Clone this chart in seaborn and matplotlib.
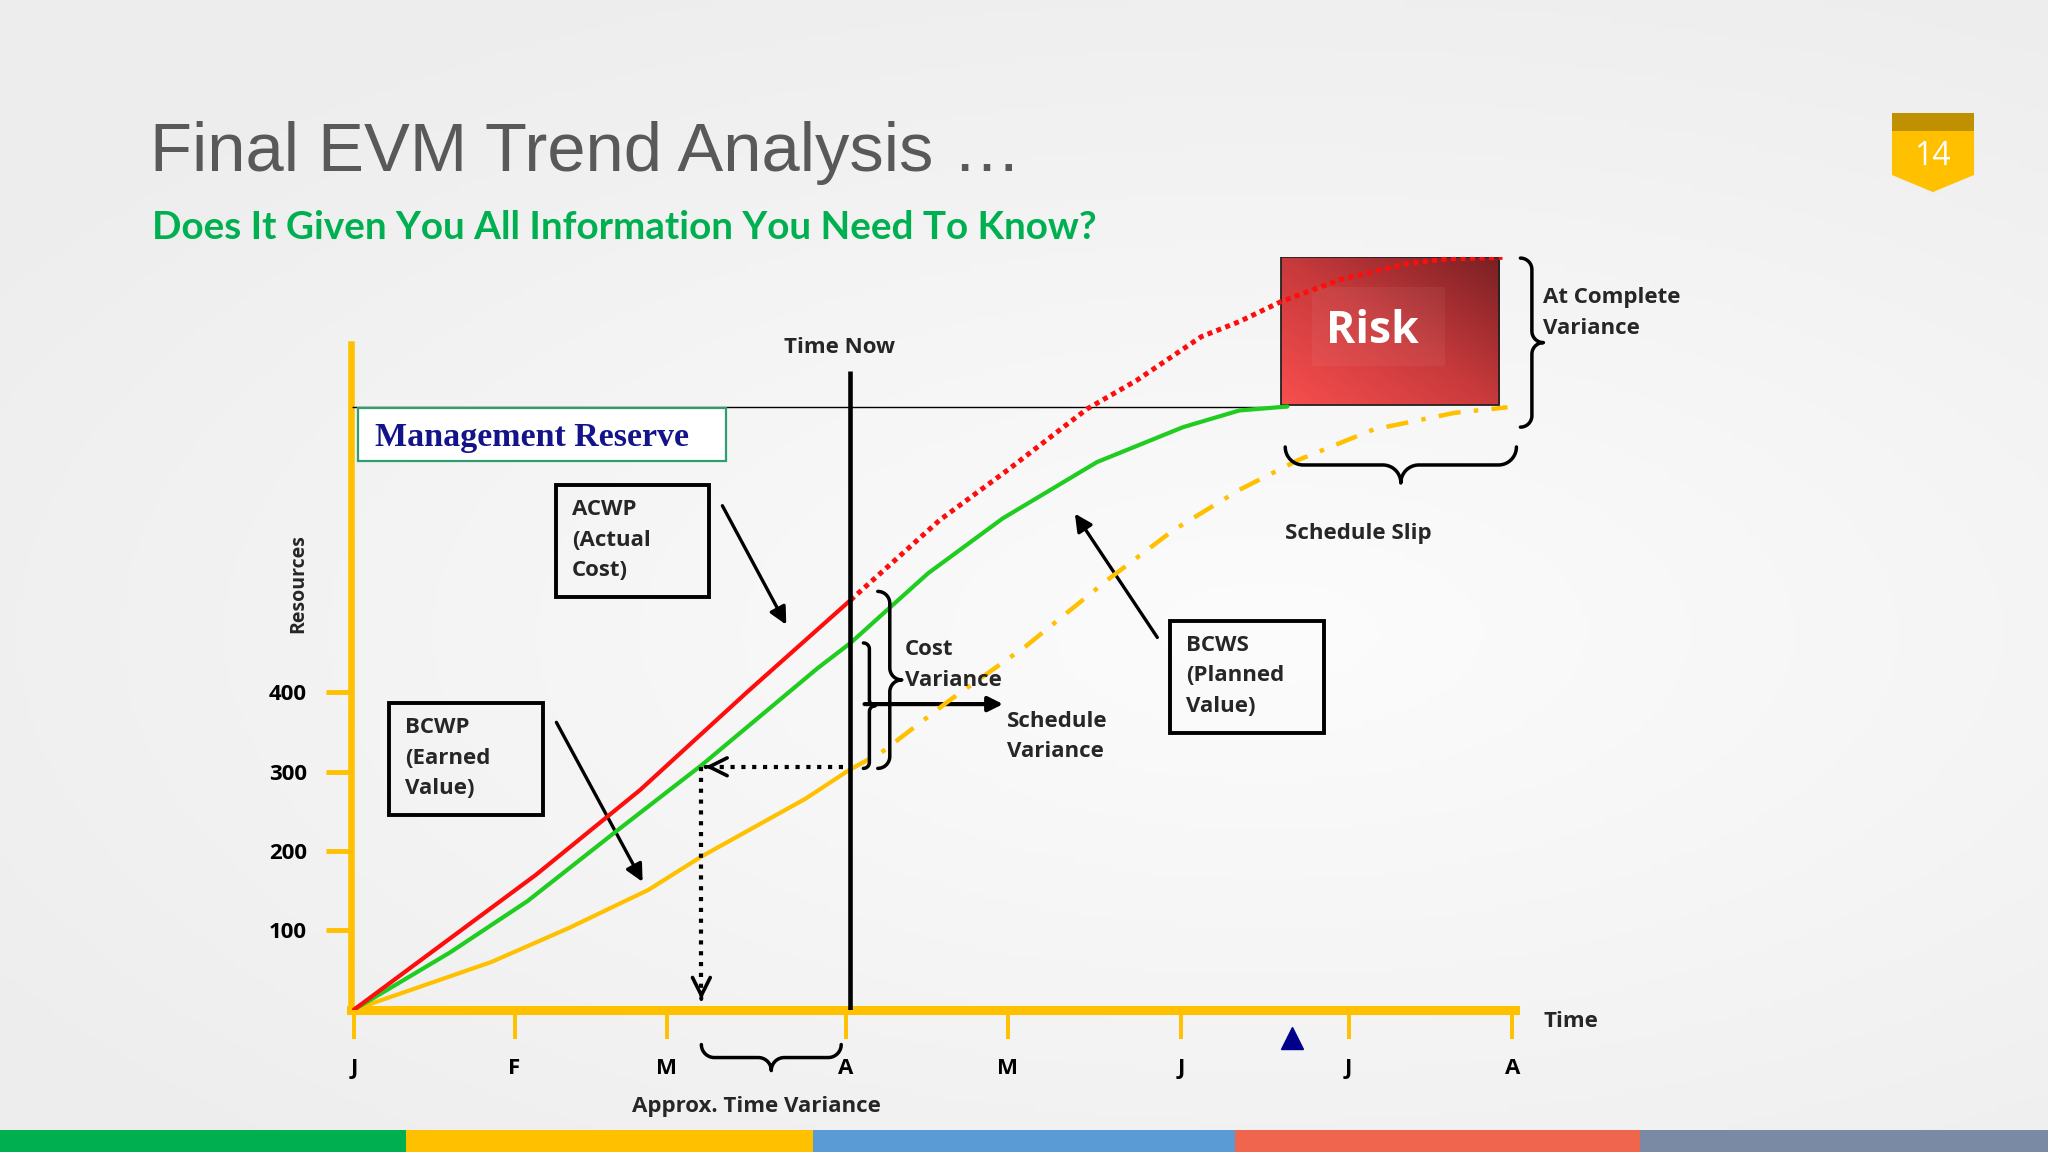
import numpy as np
import seaborn as sns
import matplotlib.pyplot as plt
from matplotlib.patches import Rectangle, Polygon
from matplotlib.colors import LinearSegmentedColormap

# -----------------------------------------
# Chart data
# -----------------------------------------
month_labels = ["J", "F", "M", "A", "M", "J", "J", "A"]
month_pos = [0.0, 0.97, 1.89, 2.97, 3.95, 5.0, 6.01, 7.0]
resource_ticks = [100, 200, 300, 400]

time_now = 3.0
mgmt_reserve = 760
budget_at_risk = 948
planned_finish = 5.67

# ACWP - actual cost so far, then the forecast (dotted)
acwp_t = [0.0, 1.10, 1.73, 2.38, 3.0]
acwp_v = [0, 170, 277, 401, 516]
acwp_fc_t = [3.0, 3.54, 3.95, 4.43, 4.73, 5.12, 5.35, 5.60, 5.96, 6.36, 6.61, 6.94]
acwp_fc_v = [516, 617, 680, 757, 793, 848, 867, 892, 920, 940, 946, 948]

# BCWP - earned value
bcwp_t = [0.0, 0.58, 1.05, 1.58, 2.10, 2.80, 3.0, 3.24, 3.47, 3.92, 4.49, 5.01, 5.35, 5.64]
bcwp_v = [0, 72, 137, 224, 308, 430, 462, 507, 550, 619, 690, 734, 755, 760]

# BCWS - planned value so far, then the slipped plan (dash-dot)
bcws_t = [0.0, 0.83, 1.30, 1.78, 2.10, 2.73, 3.0]
bcws_v = [0, 60, 103, 151, 193, 266, 303]
bcws_fc_t = [3.0, 3.18, 3.60, 4.06, 4.55, 4.95, 5.35, 5.71, 6.16, 6.65, 6.97]
bcws_fc_v = [303, 323, 390, 458, 541, 604, 655, 693, 731, 752, 759]

strip_colors = ["#00b050", "#ffc000", "#5b9bd5", "#f0654d", "#7a8aa4"]
strip_edges = [0, 0.198, 0.397, 0.603, 0.801, 1.0]

RED = "#ff0d0d"
GREEN = "#1fcc1f"
GOLD = "#ffc000"

# -----------------------------------------
# Styling
# -----------------------------------------
sns.set_theme(style="white")
plt.rcParams["font.family"] = ["Open Sans", "DejaVu Sans"]
plt.rcParams["font.weight"] = "bold"

fig = plt.figure(figsize=(20.48, 11.52), dpi=100)

# slide background
bg = fig.add_axes([0, 0, 1, 1])
yy, xx = np.mgrid[0:1:200j, 0:1:356j]
rad = np.sqrt(((xx - 0.62) / 0.9) ** 2 + ((yy - 0.45) / 0.75) ** 2)
bg.imshow(rad, cmap=LinearSegmentedColormap.from_list("bg", ["#fcfcfc", "#ededed"]),
          extent=(0, 1, 0, 1), aspect="auto", origin="lower", vmin=0.0, vmax=0.85)
for c, a, b in zip(strip_colors, strip_edges[:-1], strip_edges[1:]):
    bg.add_patch(Rectangle((a, 0), b - a, 0.019, color=c, lw=0))
bg.add_patch(Polygon([(0.9238, 0.8863), (0.9639, 0.8863), (0.9639, 0.8481),
                      (0.9438, 0.8333), (0.9238, 0.8481)], closed=True, color=GOLD, lw=0))
bg.add_patch(Rectangle((0.9238, 0.8863), 0.0401, 0.0156, color="#bf9000", lw=0))
bg.text(0.9438, 0.8645, "14", color="white", fontsize=23, fontweight="normal",
        ha="center", va="center")
bg.text(0.073, 0.8516, "Final EVM Trend Analysis \u2026", color="#595959", fontsize=49.5,
        fontweight="normal", family="Liberation Sans", va="baseline")
bg.text(0.074, 0.7925, "Does It Given You All Information You Need To Know?", color="#00b050",
        fontsize=27.8, fontweight="bold", family="Lato", va="baseline")
bg.set_xlim(0, 1)
bg.set_ylim(0, 1)
bg.axis("off")

# chart axes
ax = fig.add_axes([269 / 1568, 1 - 773 / 882, 891 / 1568, 576 / 882])
ax.set_facecolor("none")

# Risk box with a red gradient
gy, gx = np.mgrid[0:1:60j, 0:1:80j]
ax.imshow((gx + gy) / 2, cmap=LinearSegmentedColormap.from_list("risk", ["#f84e4e", "#c83a3c", "#7a2024"]),
          extent=(5.60, 6.92, mgmt_reserve + 2, budget_at_risk), aspect="auto", origin="lower", zorder=2)
ax.add_patch(Rectangle((5.60, mgmt_reserve + 2), 1.32, budget_at_risk - mgmt_reserve - 2,
                       fill=False, ec="#222222", lw=1.3, zorder=3))
ax.add_patch(Rectangle((5.79, 811), 0.80, 99, color="white", alpha=0.05, lw=0, zorder=3))
ax.text(6.156, 855, "Risk", color="white", fontsize=32, ha="center", va="center", zorder=4)

ax.set_xlim(-0.016, 7.016)
ax.set_ylim(0, 948)

# curves
sns.lineplot(x=bcws_t, y=bcws_v, ax=ax, color=GOLD, lw=3, zorder=5)
sns.lineplot(x=bcws_fc_t, y=bcws_fc_v, ax=ax, color=GOLD, lw=3.2, linestyle=(0, (5, 3, 1, 3)), zorder=5)
sns.lineplot(x=bcwp_t, y=bcwp_v, ax=ax, color=GREEN, lw=3, zorder=6)
sns.lineplot(x=acwp_t, y=acwp_v, ax=ax, color=RED, lw=3, zorder=7)
sns.lineplot(x=acwp_fc_t, y=acwp_fc_v, ax=ax, color=RED, lw=3.6, linestyle=(0, (1, 0.9)), zorder=7)

# time now and management reserve lines
ax.vlines(time_now, 0, 805, color="black", lw=3.3, zorder=8)
ax.text(2.936, 834, "Time Now", fontsize=16, ha="center", va="center")
ax.hlines(mgmt_reserve, -0.01, bcwp_t[-1], color="black", lw=1.0, zorder=4)

ax.add_patch(Rectangle((0.024, 691), 2.225, 67.5, fc="white", ec="#2e9e6e", lw=1.6, zorder=4))
ax.text(0.126, 721, "Management Reserve", family="Liberation Serif", fontsize=24.5,
        color="#14148a", va="center", zorder=5)

# label boxes
for x0, x1, y0, y1, label in [(1.223, 2.147, 520, 661, "ACWP\n(Actual\nCost)"),
                              (0.213, 1.144, 245, 387, "BCWP\n(Earned\nValue)"),
                              (4.932, 5.864, 349, 490, "BCWS\n(Planned\nValue)")]:
    ax.add_patch(Rectangle((x0, y0), x1 - x0, y1 - y0, fill=False, ec="black", lw=2.8, zorder=4))
    ax.text(x0 + 0.095, (y0 + y1) / 2 + 1, label, fontsize=16, va="center", linespacing=1.6)

arrow = dict(arrowstyle="-|>", color="black", lw=2.4, mutation_scale=26, shrinkA=0, shrinkB=0)
ax.annotate("", xy=(2.612, 485), xytext=(2.226, 635), arrowprops=arrow)
ax.annotate("", xy=(1.744, 161), xytext=(1.223, 362), arrowprops=arrow)
ax.annotate("", xy=(4.356, 625), xytext=(4.854, 469), arrowprops=arrow)
ax.annotate("", xy=(3.922, 385), xytext=(3.085, 385), arrowprops=dict(arrow, lw=3, mutation_scale=22))

# dotted time-variance arrows
dots = (0, (1, 1.6))
ax.plot([2.955, 2.14], [306, 306], color="black", lw=3, linestyle=dots, zorder=8)
ax.plot([2.099, 2.099], [306, 25], color="black", lw=3, linestyle=dots, zorder=8)
open_head = dict(arrowstyle="->", color="black", lw=2.6, mutation_scale=32, shrinkA=0, shrinkB=0)
ax.annotate("", xy=(2.123, 306), xytext=(2.125, 306), arrowprops=open_head)
ax.annotate("", xy=(2.099, 13), xytext=(2.099, 14), arrowprops=open_head, annotation_clip=False)

ax.text(3.330, 434, "Cost\nVariance", fontsize=16, va="center", linespacing=1.6, zorder=9)
ax.text(3.946, 344, "Schedule\nVariance", fontsize=16, va="center", linespacing=1.6)
ax.text(6.069, 600, "Schedule Slip", fontsize=16, ha="center", va="center")
ax.text(7.182, 878, "At Complete\nVariance", fontsize=16, va="center", linespacing=1.6)
ax.text(7.19, -15, "Time", fontsize=16, va="center")
ax.text(2.431, -122, "Approx. Time Variance", fontsize=16, ha="center", va="center")
ax.text(-0.046, 0.566, "Resources", fontsize=14, rotation=90, ha="center", va="center",
        transform=ax.transAxes)

ax.plot(planned_finish, -36, marker="^", ms=16, color="#00008b", clip_on=False)

# axes styling
sns.despine(ax=ax)
ax.spines["left"].set_color(GOLD)
ax.spines["left"].set_linewidth(4.7)
ax.spines["left"].set_bounds(0, 839)
ax.spines["bottom"].set_color(GOLD)
ax.spines["bottom"].set_linewidth(6.5)
ax.set_xticks(month_pos, month_labels)
ax.set_yticks(resource_ticks)
ax.tick_params(axis="x", length=21, width=2.8, color=GOLD, pad=14, labelsize=16, bottom=True)
ax.tick_params(axis="y", length=18, width=3.5, color=GOLD, pad=14, labelsize=16, left=True)
plt.setp(ax.get_xticklabels() + ax.get_yticklabels(), fontweight="bold", color="black")
ax.set_xlim(-0.016, 7.016)
ax.set_ylim(0, 948)


def brace(p0, p1, depth, tip=0.5, lw=2.5):
    # curly brace drawn in pixel space; the point sits to the left of p0 -> p1
    P0, P1 = ax.transData.transform([p0, p1])
    vec = P1 - P0
    L = np.hypot(*vec)
    u = vec / L
    n = np.array([-u[1], u[0]])
    r = depth / 2
    a = np.linspace(0, np.pi / 2, 20)

    def half(length):
        s = np.r_[r - r * np.cos(a), length - r + r * np.sin(a)]
        d = np.r_[r * np.sin(a), 2 * r - r * np.cos(a)]
        return s, d

    sa, da = half(L * tip)
    sb, db = half(L * (1 - tip))
    s = np.r_[sa, L - sb[::-1]]
    d = np.r_[da, db[::-1]]
    pts = P0 + np.outer(s, u) + np.outer(d, n)
    xy = ax.transData.inverted().transform(pts)
    ax.plot(xy[:, 0], xy[:, 1], color="black", lw=lw, clip_on=False, zorder=9)


brace((3.165, 527), (3.165, 304), 24)
brace((3.078, 462), (3.078, 304), 12)
brace((7.024, 709), (5.627, 709), 36)
brace((7.048, 947), (7.048, 734), 23)
brace((2.944, -44), (2.099, -44), 26)

plt.savefig("out.png", dpi=100)
